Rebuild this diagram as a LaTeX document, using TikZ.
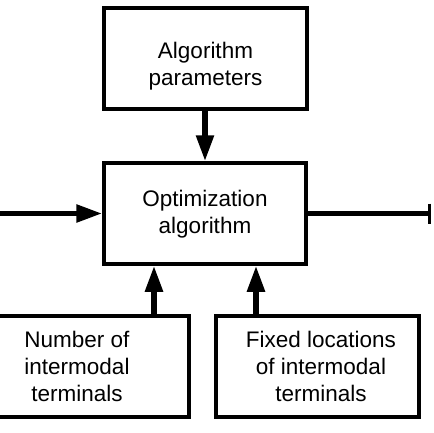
\documentclass[tikz,border=0pt]{standalone}
\usepackage{fontspec}
\setmainfont{Liberation Sans}
\usetikzlibrary{arrows.meta}
\begin{document}
\begin{tikzpicture}[x=1pt,y=-1pt,
  box/.style={draw, line width=3.5pt, minimum width=#1, minimum height=101pt, inner sep=0pt},
  txt/.style={align=center, inner sep=0pt, font=\fontsize{22.5}{27}\selectfont},
  arr/.style={line width=5.5pt, -{Triangle[length=26pt,width=17pt]}},
]
\useasboundingbox (0,0) rectangle (433,433);
\clip (0,0) rectangle (433,433);
\node[box=203pt] (top) at (205.5,58.5) {};
\node[txt] (toptxt) at (205.5,66) {Algorithm\\parameters};
\node[box=202pt] (mid) at (205,213.5) {};
\node[txt] (midtxt) at (205,214) {Optimization\\algorithm};
\node[box=224pt] (bl) at (77,366.5) {};
\node[txt] (bltxt) at (77,366.5) {Number of\\intermodal\\terminals};
\node[box=203pt] (br) at (317.5,366.5) {};
\node[txt] (brtxt) at (321,366.5) {Fixed locations\\of intermodal\\terminals};
\coordinate (c1) at (154,0);
\coordinate (c2) at (256,0);
\coordinate (in) at (0,213.5);
\coordinate (out) at (431,213.5);
\draw[arr] (top.south -| mid.north) -- (mid.north);
\draw[arr] (bl.north -| c1) -- (mid.south -| c1);
\draw[arr] (br.north -| c2) -- (mid.south -| c2);
\draw[arr] (in) -- (mid.west);
\draw[line width=5.5pt, -{Bar[width=20pt,line width=3pt]}] (mid.east) -- (out);
\end{tikzpicture}
\end{document}
